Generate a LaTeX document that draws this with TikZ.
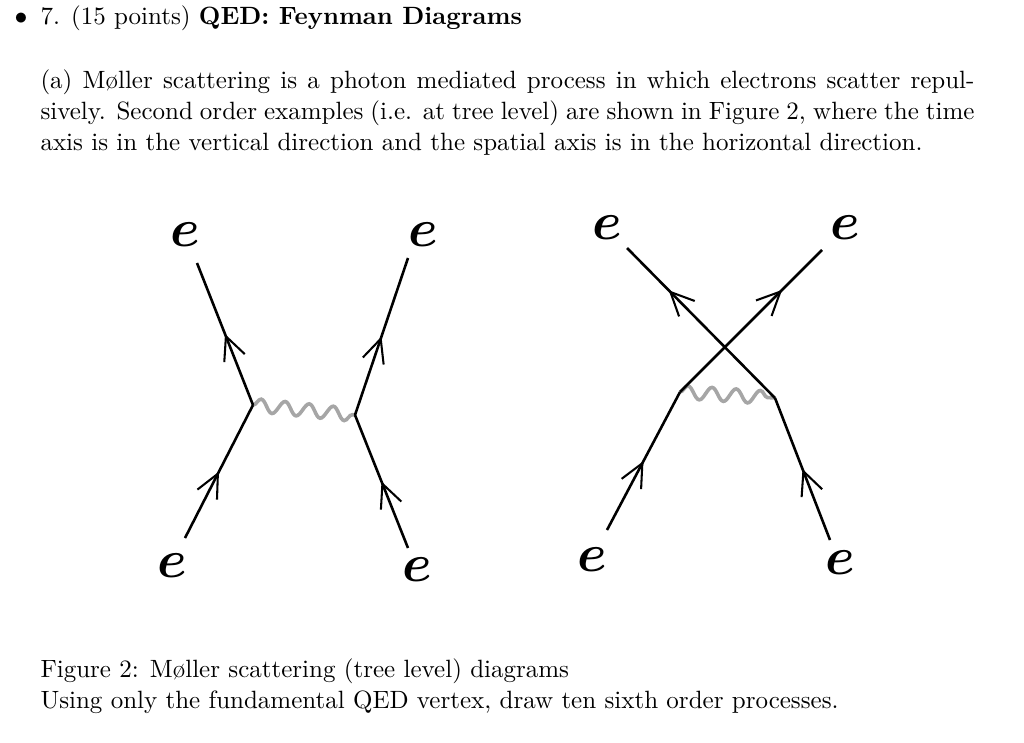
\documentclass[tikz,border=0pt]{standalone}
\usetikzlibrary{arrows.meta,decorations.markings,decorations.pathmorphing}
\begin{document}
\begin{tikzpicture}[x=0.01364cm,y=-0.01364cm,
  fermion/.style={line width=1pt,postaction={decorate},decoration={markings,mark=at position #1 with {\arrow{Straight Barb[length=3.2mm,width=3mm,line width=0.8pt]}}}},
  fermion/.default=0.5,
  photon/.style={gray!70,line width=1.4pt,decorate,decoration={snake,segment length=3.3mm,amplitude=0.9mm}},
  elabel/.style={font=\fontsize{21}{22}\selectfont\boldmath},
  txt/.style={anchor=base west,inner sep=0,font=\fontsize{9.7}{11}\selectfont}]
\useasboundingbox (0,0) rectangle (1024,742);
% text
\node[txt] (b) at (14,25) {$\bullet$};
\node[txt] (h) at (40,25) {7. (15 points) \textbf{QED: Feynman Diagrams}};
\node[txt] (l1) at (40,89) {\makebox[362.5pt][s]{(a) Møller scattering is a photon mediated process in which electrons scatter repul-}};
\node[txt] (l2) at (40,120) {\makebox[362.5pt][s]{sively. Second order examples (i.e. at tree level) are shown in Figure 2, where the time}};
\node[txt] (l3) at (40,151) {axis is in the vertical direction and the spatial axis is in the horizontal direction.};
\node[txt] (c1) at (40,677) {Figure 2: Møller scattering (tree level) diagrams};
\node[txt] (c2) at (40,708) {Using only the fundamental QED vertex, draw ten sixth order processes.};
% diagram 1
\coordinate (v1) at (253,405); \coordinate (v2) at (355,415);
\coordinate (a1) at (197,263); \coordinate (a2) at (408,258);
\coordinate (a3) at (185,538); \coordinate (a4) at (408,548);
\draw[photon] (v1) -- (v2);
\draw[fermion] (v1) -- (a1);
\draw[fermion] (v2) -- (a2);
\draw[fermion] (a3) -- (v1);
\draw[fermion] (a4) -- (v2);
\node[elabel] (e1) at (185,235) {$e$};
\node[elabel] (e2) at (423,235) {$e$};
\node[elabel] (e3) at (172,566) {$e$};
\node[elabel] (e4) at (417,570) {$e$};
% diagram 2
\coordinate (w1) at (680,392); \coordinate (w2) at (775,398);
\coordinate (b1) at (627,248); \coordinate (b2) at (822,250);
\coordinate (b3) at (607,530); \coordinate (b4) at (830,540);
\draw[photon] (w1) -- (w2);
\draw[fermion=0.72] (w2) -- (b1);
\draw[fermion=0.72] (w1) -- (b2);
\draw[fermion] (b3) -- (w1);
\draw[fermion] (b4) -- (w2);
\node[elabel] (f1) at (607,228) {$e$};
\node[elabel] (f2) at (845,228) {$e$};
\node[elabel] (f3) at (592,560) {$e$};
\node[elabel] (f4) at (840,563) {$e$};
\end{tikzpicture}
\end{document}
